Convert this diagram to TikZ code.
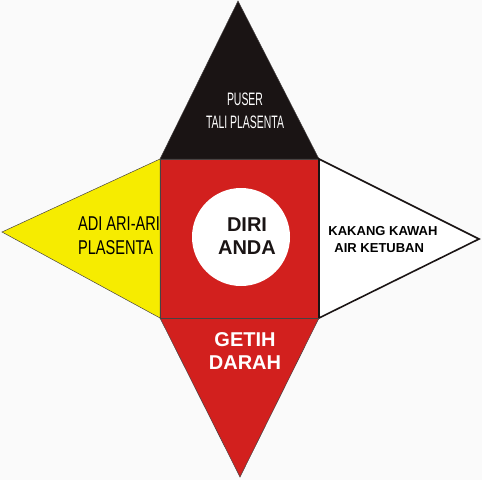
\documentclass[tikz,border=0pt]{standalone}
\usepackage{fontspec}
\usepackage{graphicx}
\setmainfont{Liberation Sans}
\definecolor{rd}{RGB}{210,32,30}
\definecolor{yl}{RGB}{246,236,0}
\definecolor{bk}{RGB}{26,20,20}
\definecolor{bg}{RGB}{250,250,250}
\newcommand{\narrowtext}[3]{\scalebox{#1}[1]{\begin{tabular}{@{}#2@{}}#3\end{tabular}}}
\begin{document}
\begin{tikzpicture}[x=1pt,y=-1pt,
  piece/.style={line width=0.5pt,draw=bk!80,line join=miter},
  lbl/.style={align=center,inner sep=0pt}]
\fill[bg] (0,0) rectangle (482,480);
\useasboundingbox (0,0) rectangle (482,480);
% corners of the centre square
\coordinate (tl) at (160,159);
\coordinate (tr) at (319,159);
\coordinate (bl) at (160,318);
\coordinate (br) at (319,318);
\coordinate (ntop) at (238,1);
\coordinate (nleft) at (2,232);
\coordinate (nright) at (479,239);
\coordinate (nbot) at (240,477);
\fill[yl,piece] (nleft) -- (tl) -- (bl) -- cycle;
\fill[bk,piece] (ntop) -- (tr) -- (tl) -- cycle;
\fill[rd,piece] (nbot) -- (bl) -- (br) -- cycle;
\draw[fill=white,line width=1.6pt,draw=bk,line join=miter] (nright) -- (br) -- (tr) -- cycle;
\fill[rd,piece] (tl) rectangle (br);
\draw[line width=1.6pt,draw=bk] (tr) -- (br);
\node[circle,fill=white,minimum size=98pt,inner sep=0pt] (circ) at (241,237) {};
\node[lbl,font=\bfseries\fontsize{20}{23}\selectfont,text=bk] (diri) at (247,236) {DIRI\\ANDA};
\node[lbl,font=\fontsize{18}{23}\selectfont,text=white] (puser) at (245,112) {\narrowtext{0.58}{c}{PUSER\\TALI PLASENTA}};
\node[lbl,font=\fontsize{20}{23.5}\selectfont,text=black] (adi) at (119,238) {\narrowtext{0.73}{l}{ADI ARI-ARI\\PLASENTA}};
\node[lbl,align=left,font=\bfseries\fontsize{13}{17}\selectfont,text=black] (kakang) at (383,240) {KAKANG KAWAH\\\hspace*{6pt}AIR KETUBAN};
\node[lbl,font=\bfseries\fontsize{20}{23}\selectfont,text=white] (getih) at (245,351) {GETIH\\DARAH};
\end{tikzpicture}
\end{document}
